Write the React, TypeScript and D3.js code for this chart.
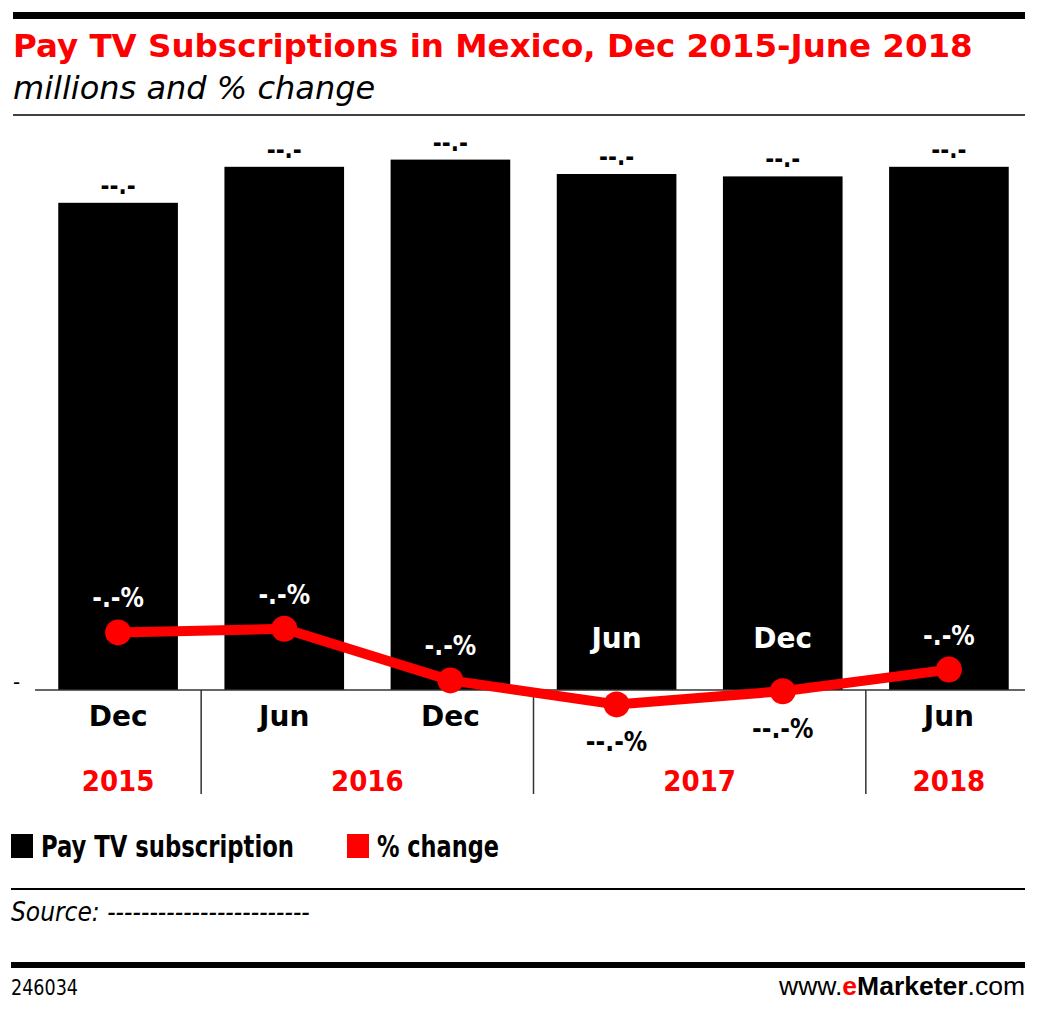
import { scaleBand, scaleLinear, line } from "d3";

// chart data
const categories = ["Dec", "Jun", "Dec", "Jun", "Dec", "Jun"];
const subscriptions = [20.3, 21.8, 22.1, 21.5, 21.4, 21.8]; // millions
const pctChange = [4.8, 5.1, 0.8, -1.2, -0.1, 1.7]; // % change
const valueLabels = ["--.-", "--.-", "--.-", "--.-", "--.-", "--.-"];
const pctLabels = ["-.-%", "-.-%", "-.-%", "--.-%", "--.-%", "-.-%"];
const catInside = [false, false, false, true, true, false];
const yearLabels = ["2015", "2016", "2017", "2018"];
const yearSpans = [[0, 0], [1, 2], [3, 4], [5, 5]];

const W = 1038;
const H = 1013;
const RED = "#ff0000";
const COND = "'DejaVu Sans Condensed', 'DejaVu Sans', sans-serif";
const WIDE = "'DejaVu Sans', sans-serif";
const SANS = "'Liberation Sans', Arial, sans-serif";

export default function App() {
  const baseline = 690;
  const x = scaleBand<number>()
    .domain(categories.map((_, i) => i))
    .range([35, 1032])
    .paddingInner(0.28)
    .paddingOuter(0.14);
  const y = scaleLinear().domain([0, 24]).range([baseline, 114]);
  const yPct = scaleLinear().domain([-2, 6]).range([baseline + 24, baseline - 72]);
  const cx = (i: number) => (x(i) as number) + x.bandwidth() / 2;

  const pctLine = line<number>()
    .x((_, i) => cx(i))
    .y((d) => yPct(d));

  const separators = yearSpans.slice(0, -1).map(([, end]) => {
    const a = (x(end) as number) + x.bandwidth();
    const b = x(end + 1) as number;
    return (a + b) / 2;
  });

  return (
    <svg
      width={W}
      height={H}
      viewBox={`0 0 ${W} ${H}`}
      style={{ position: "absolute", left: 0, top: 0, background: "#fff" }}
    >
      {/* header */}
      <rect x={13} y={12} width={1012} height={7} fill="#000" />
      <text x={13} y={57} fill={RED} fontFamily={WIDE} fontWeight="bold" fontSize={32.5}>
        Pay TV Subscriptions in Mexico, Dec 2015-June 2018
      </text>
      <text x={13} y={99} fill="#000" fontFamily={WIDE} fontStyle="italic" fontSize={32}>
        millions and % change
      </text>
      <line x1={13} x2={1025} y1={115} y2={115} stroke="#000" strokeWidth={1.5} />

      {/* bars */}
      {subscriptions.map((v, i) => (
        <g key={"b" + i}>
          <rect x={x(i)} y={y(v)} width={x.bandwidth()} height={baseline - y(v)} fill="#000" />
          <text
            x={cx(i)}
            y={y(v) - 9}
            textAnchor="middle"
            fontFamily={COND}
            fontWeight="bold"
            fontSize={24}
          >
            {valueLabels[i]}
          </text>
        </g>
      ))}

      {/* axis */}
      <line x1={35} x2={1025} y1={baseline} y2={baseline} stroke="#333" strokeWidth={1.5} />
      <text x={13} y={689} fontFamily={COND} fontSize={22}>-</text>
      {separators.map((sx, i) => (
        <line key={"s" + i} x1={sx} x2={sx} y1={baseline} y2={794} stroke="#333" strokeWidth={1.5} />
      ))}

      {/* category labels */}
      {categories.map((c, i) => (
        <text
          key={"c" + i}
          x={cx(i)}
          y={catInside[i] ? 648 : 726}
          textAnchor="middle"
          fill={catInside[i] ? "#fff" : "#000"}
          fontFamily={WIDE}
          fontWeight="bold"
          fontSize={28}
        >
          {c}
        </text>
      ))}
      {yearLabels.map((yr, i) => {
        const [s, e] = yearSpans[i];
        return (
          <text
            key={"y" + i}
            x={(cx(s) + cx(e)) / 2}
            y={791}
            textAnchor="middle"
            fill={RED}
            fontFamily={COND}
            fontWeight="bold"
            fontSize={29}
          >
            {yr}
          </text>
        );
      })}

      {/* % change line */}
      <path d={pctLine(pctChange) || ""} fill="none" stroke={RED} strokeWidth={10} />
      {pctChange.map((v, i) => (
        <g key={"p" + i}>
          <circle cx={cx(i)} cy={yPct(v)} r={13} fill={RED} />
          <text
            x={cx(i)}
            y={v >= 0 ? yPct(v) - 25 : yPct(v) + 47}
            textAnchor="middle"
            fill={v >= 0 ? "#fff" : "#000"}
            fontFamily={COND}
            fontWeight="bold"
            fontSize={26}
          >
            {pctLabels[i]}
          </text>
        </g>
      ))}

      {/* legend */}
      <rect x={11} y={834} width={22} height={24} fill="#000" />
      <text
        x={41}
        y={857}
        fontFamily={COND}
        fontWeight="bold"
        fontSize={30}
        textLength={253}
        lengthAdjust="spacingAndGlyphs"
      >
        Pay TV subscription
      </text>
      <rect x={347} y={834} width={22} height={24} fill={RED} />
      <text
        x={377}
        y={857}
        fontFamily={COND}
        fontWeight="bold"
        fontSize={30}
        textLength={122}
        lengthAdjust="spacingAndGlyphs"
      >
        % change
      </text>

      {/* footer */}
      <line x1={11} x2={1025} y1={889} y2={889} stroke="#000" strokeWidth={2} />
      <text x={11} y={921} fontFamily={COND} fontStyle="italic" fontSize={26}>
        Source: ------------------------
      </text>
      <rect x={11} y={962} width={1014} height={6} fill="#000" />
      <text x={11} y={995} fontFamily={COND} fontSize={21} textLength={67} lengthAdjust="spacingAndGlyphs">
        246034
      </text>
      <text x={1025} y={995} textAnchor="end" fontFamily={SANS} fontSize={26.5}>
        www.
        <tspan fill={RED} fontWeight="bold">e</tspan>
        <tspan fontWeight="bold">Marketer</tspan>
        .com
      </text>
    </svg>
  );
}
